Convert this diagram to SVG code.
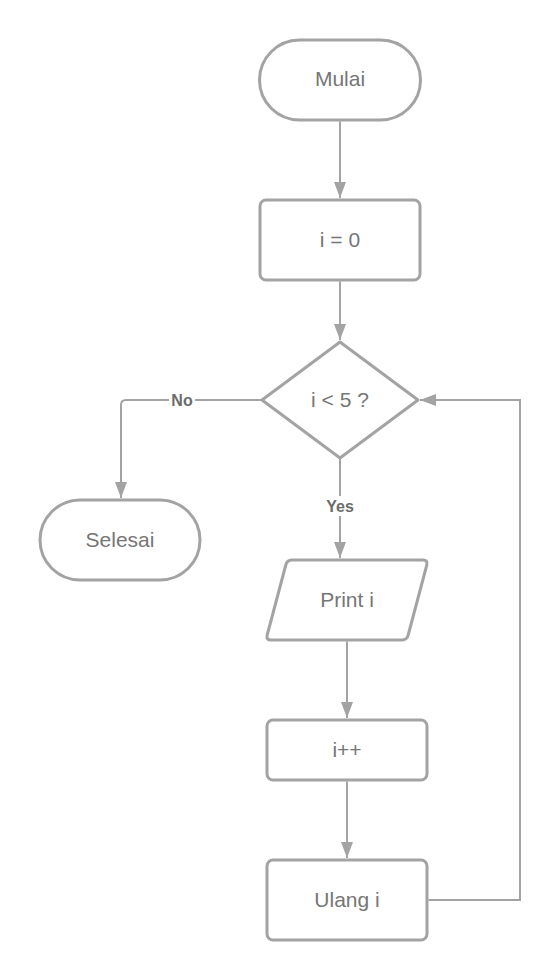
<svg xmlns="http://www.w3.org/2000/svg" width="560" height="980" viewBox="0 0 560 980">
<style>
.shape{fill:#ffffff;stroke:#a3a3a3;stroke-width:3;stroke-linejoin:round}
.line{fill:none;stroke:#a3a3a3;stroke-width:2}
.txt{font-family:"Liberation Sans",Arial,sans-serif;font-size:21px;fill:#767676;text-anchor:middle}
.lbl{font-family:"Liberation Sans",Arial,sans-serif;font-size:16px;font-weight:bold;fill:#6b6b6b;text-anchor:middle}
</style>
<defs>
<marker id="arr" markerUnits="userSpaceOnUse" markerWidth="16" markerHeight="12" refX="16" refY="6" orient="auto">
<path d="M0,0 L16,6 L0,12 z" fill="#a3a3a3"/>
</marker>
</defs>
<rect width="560" height="980" fill="#ffffff"/>
<g id="connectors">
<path class="line" d="M340,121.5 L340,198" marker-end="url(#arr)"/>
<path class="line" d="M340,281.5 L340,340" marker-end="url(#arr)"/>
<path class="line" d="M262,400 L126,400 Q121,400 121,405 L121,498" marker-end="url(#arr)"/>
<path class="line" d="M340,459 L340,558" marker-end="url(#arr)"/>
<path class="line" d="M347,641.5 L347,718" marker-end="url(#arr)"/>
<path class="line" d="M347,781.5 L347,858" marker-end="url(#arr)"/>
<path class="line" d="M428.5,900 L520,900 L520,400 L420,400" marker-end="url(#arr)"/>
<rect x="169" y="390" width="26" height="20" fill="#ffffff"/>
<text class="lbl" x="182" y="406">No</text>
<rect x="324" y="496" width="32" height="20" fill="#ffffff"/>
<text class="lbl" x="340" y="512">Yes</text>
</g>
<g id="mulai">
<rect class="shape" x="259.5" y="40" width="161" height="80" rx="40" ry="40"/>
<text class="txt" x="340" y="86">Mulai</text>
</g>
<g id="init">
<rect class="shape" x="260" y="200" width="160" height="80" rx="6" ry="6"/>
<text class="txt" x="340" y="247">i = 0</text>
</g>
<g id="decision">
<path class="shape" d="M340,342 L418,400 L340,458 L262,400 Z"/>
<text class="txt" x="340" y="407">i &lt; 5 ?</text>
</g>
<g id="selesai">
<rect class="shape" x="40" y="500" width="160" height="80" rx="40" ry="40"/>
<text class="txt" x="120" y="547">Selesai</text>
</g>
<g id="print">
<path class="shape" d="M292,560 L423,560 Q428,560 426.8,565 L408.2,635 Q407,640 402,640 L271,640 Q266,640 267.2,635 L285.8,565 Q287,560 292,560 Z"/>
<text class="txt" x="347" y="607">Print i</text>
</g>
<g id="increment">
<rect class="shape" x="267" y="720" width="160" height="60" rx="6" ry="6"/>
<text class="txt" x="347" y="757">i++</text>
</g>
<g id="ulang">
<rect class="shape" x="267" y="860" width="160" height="80" rx="6" ry="6"/>
<text class="txt" x="347" y="907">Ulang i</text>
</g>
</svg>
